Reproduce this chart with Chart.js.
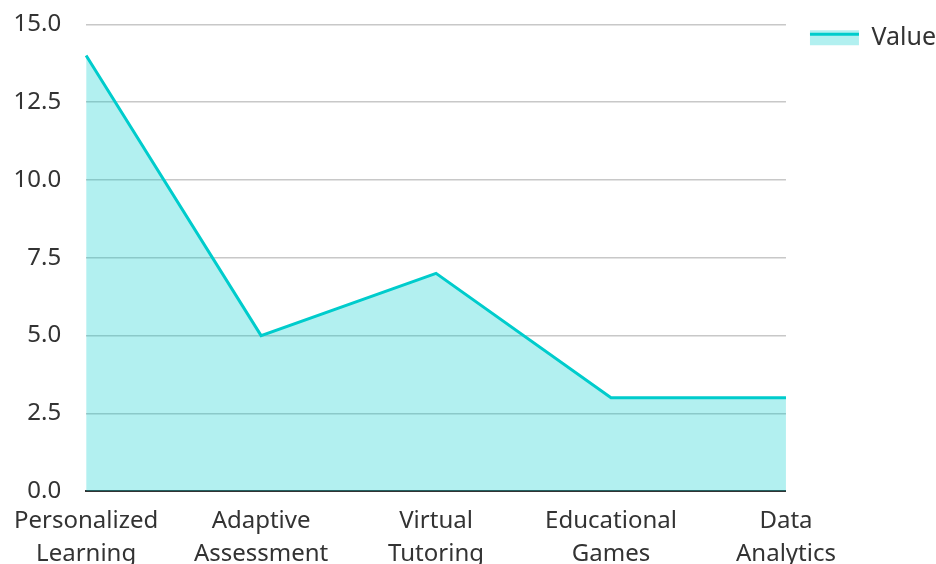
<!DOCTYPE html>
<html>
<head>
<meta charset="utf-8">
<script src="https://cdn.jsdelivr.net/npm/chart.js@4/dist/chart.umd.min.js"></script>
<style>
    html, body { margin: 0; padding: 0; overflow: hidden; background: #fff; }
    #wrap { width: 936px; height: 584px; position: relative; }
</style>
</head>
<body>
<div id="wrap"><canvas id="areaChart"></canvas></div>
<script>
// Données du graphique
const categories = [
    ["Personalized", "Learning"],
    ["Adaptive", "Assessment"],
    ["Virtual", "Tutoring"],
    ["Educational", "Games"],
    ["Data", "Analytics"]
];
const values = [14, 5, 7, 3, 3];
const seriesLabel = "Value";

const lineColor = "#00cccc";
const fillColor = "rgba(0,204,204,0.3)";
const fontFamily = "'Noto Sans', sans-serif";

// Trait épais en haut de la case de légende (comme une aire)
const legendLinePlugin = {
    id: "legendLine",
    afterDraw(chart) {
        const legend = chart.legend;
        if (!legend || !legend.legendHitBoxes || !legend.legendHitBoxes.length) return;
        const box = legend.legendHitBoxes[0];
        const opts = legend.options.labels;
        const itemHeight = Math.max(opts.font.size * 1.2, opts.boxHeight);
        const top = box.top + (itemHeight - opts.boxHeight) / 2;
        const c = chart.ctx;
        c.save();
        c.strokeStyle = lineColor;
        c.lineWidth = 3;
        c.beginPath();
        c.moveTo(box.left, top + 1.5);
        c.lineTo(box.left + opts.boxWidth, top + 1.5);
        c.stroke();
        c.restore();
    },
};

const ctx = document.getElementById("areaChart").getContext("2d");

new Chart(ctx, {
    type: "line",
    data: {
        labels: categories,
        datasets: [
            {
                label: seriesLabel,
                data: values,
                borderColor: lineColor,
                backgroundColor: fillColor,
                borderWidth: 3,
                fill: "origin",
                tension: 0,
                pointRadius: 0,
            },
        ],
    },
    options: {
        responsive: true,
        maintainAspectRatio: false,
        animation: false,
        layout: { padding: { left: -13, top: 0, right: -10, bottom: 0 } },
        plugins: {
            legend: {
                display: true,
                position: "right",
                align: "start",
                title: {
                    display: true,
                    text: " ",
                    color: "rgba(0,0,0,0)",
                    padding: 0,
                    font: { family: fontFamily, size: 1 },
                },
                labels: {
                    boxWidth: 49,
                    boxHeight: 15,
                    padding: 24,
                    color: "#333",
                    font: { family: fontFamily, size: 25 },
                    generateLabels: (chart) => [{
                        text: seriesLabel,
                        fillStyle: fillColor,
                        strokeStyle: "rgba(0,0,0,0)",
                        lineWidth: 0,
                        fontColor: "#333",
                        datasetIndex: 0,
                    }],
                },
            },
            tooltip: { enabled: false },
        },
        scales: {
            x: {
                offset: false,
                grid: { display: false, drawTicks: false },
                border: { display: true, color: "#333", width: 2 },
                ticks: {
                    color: "#333",
                    maxRotation: 0,
                    autoSkip: false,
                    padding: 14,
                    font: { family: fontFamily, size: 24, lineHeight: 1.35 },
                },
            },
            y: {
                min: 0,
                max: 15,
                grid: {
                    color: "#c8c8c8",
                    lineWidth: 1.5,
                    drawTicks: true,
                    tickLength: 15,
                    tickColor: "rgba(0,0,0,0)",
                },
                border: { display: false },
                ticks: {
                    stepSize: 2.5,
                    padding: 10,
                    color: "#333",
                    font: { family: fontFamily, size: 24 },
                    callback: (v) => Number(v).toFixed(1),
                },
            },
        },
    },
    plugins: [legendLinePlugin],
});
</script>
</body>
</html>
